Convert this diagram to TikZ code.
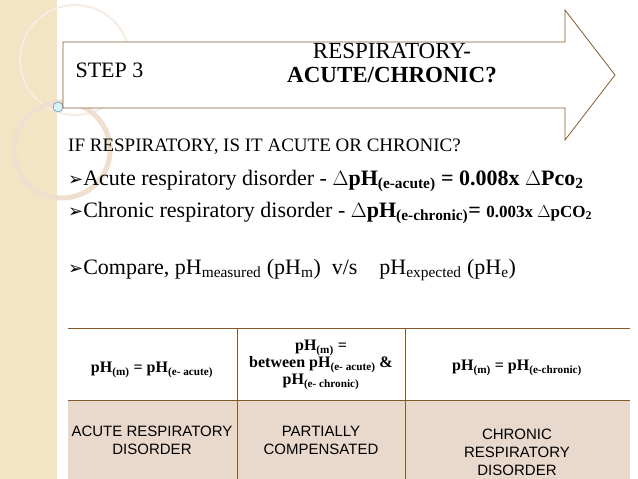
\documentclass[tikz,border=0pt]{standalone}
\usepackage{fontspec}
\setmainfont{Liberation Serif}
\setsansfont{Liberation Sans}
\newfontfamily\djv{DejaVu Sans}
\definecolor{strip}{RGB}{243,228,196}
\definecolor{cell}{RGB}{233,217,205}
\begin{document}
\begin{tikzpicture}[x=1pt,y=-1pt,
  bul/.style={anchor=west,font=\fontsize{22}{24}\selectfont,inner sep=0},
  hd/.style={font=\bfseries\fontsize{16}{17}\selectfont,align=center},
  bd/.style={font=\sffamily\fontsize{15}{18}\selectfont,align=center}]
\useasboundingbox (0,0) rectangle (638,479);
\fill[white] (0,0) rectangle (638,479);
% left decorative strip
\fill[strip] (0,0) rectangle (58,479);
\draw[white,line width=1.2pt] (58,0) -- (58,479);
\draw[white!85!brown,line width=2pt] (75,60) circle (55);
\draw[white!75!brown,line width=5pt] (62,150) circle (48);
\draw[cyan!50!black,fill=cyan!15] (58,107) circle (5);
% arrow
\draw[brown!70!black,fill=white,line width=0.8pt]
  (63,42) -- (565,42) -- (565,10) -- (615,75) -- (565,140) -- (565,108) -- (63,108) -- cycle;
\node[anchor=west,font=\fontsize{22}{24}\selectfont] (st) at (72,70) {STEP 3};
\node[align=center,font=\fontsize{23}{24}\selectfont] (ti) at (392,63) {RESPIRATORY-\\\textbf{ACUTE/CHRONIC?}};
% text lines
\node[bul] (l0) at (68,147) {\fontsize{19}{21}\selectfont IF RESPIRATORY, IS IT ACUTE OR CHRONIC?};
\node[bul] (l1) at (68,181) {{\djv\fontsize{18}{20}\selectfont ➢}Acute respiratory disorder - \textbf{$\Delta$pH\textsubscript{(e-acute)} = 0.008x $\Delta$Pco\textsubscript{2}}};
\node[bul] (l2) at (68,213) {{\djv\fontsize{18}{20}\selectfont ➢}Chronic respiratory disorder - \textbf{$\Delta$pH\textsubscript{(e-chronic)}= \fontsize{17}{19}\selectfont 0.003x $\Delta$pCO\textsubscript{2}}};
\node[bul] (l3) at (68,270) {{\djv\fontsize{18}{20}\selectfont ➢}Compare, pH\textsubscript{measured} (pH\textsubscript{m})\ \ v/s\quad pH\textsubscript{expected} (pH\textsubscript{e})};
% table
\fill[cell] (68,400) rectangle (630,479);
\draw[brown!70!black,line width=0.8pt] (68,328) -- (630,328) (68,400) -- (630,400) (237,328) -- (237,479) (405,328) -- (405,479);
\node[hd] (h1) at (152,370) {pH\textsubscript{(m)} = pH\textsubscript{(e- acute)}};
\node[hd] (h2) at (321,365) {pH\textsubscript{(m)} =\\between pH\textsubscript{(e- acute)} \&\\pH\textsubscript{(e- chronic)}};
\node[hd] (h3) at (517,368) {pH\textsubscript{(m)} = pH\textsubscript{(e-chronic)}};
\node[bd] (b1) at (152,440) {ACUTE RESPIRATORY\\DISORDER};
\node[bd] (b2) at (321,440) {PARTIALLY\\COMPENSATED};
\node[bd] (b3) at (517,452) {CHRONIC\\RESPIRATORY\\DISORDER};
\end{tikzpicture}
\end{document}
